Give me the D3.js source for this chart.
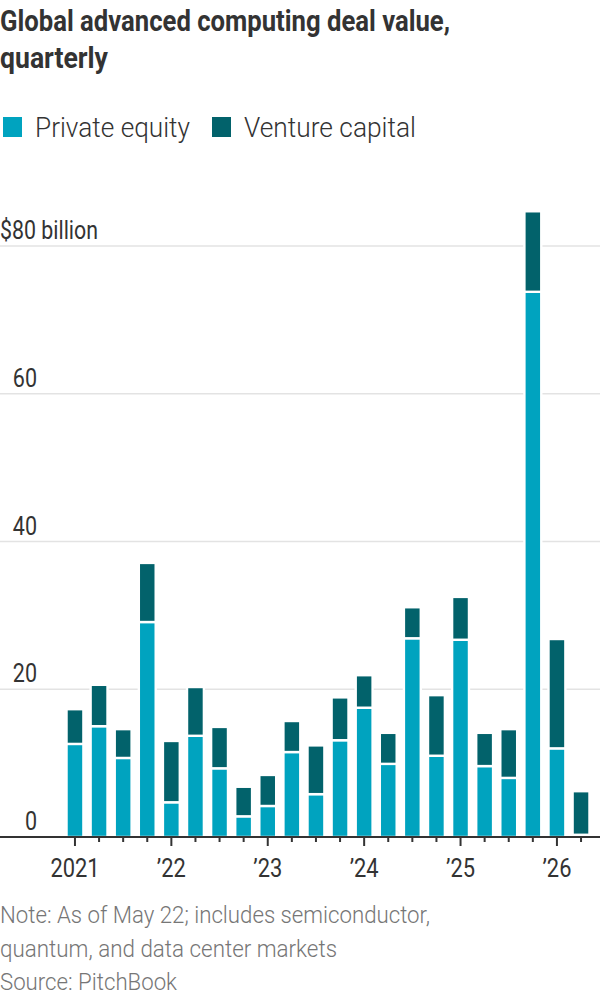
<!DOCTYPE html>
<html>
<head>
<meta charset="utf-8">
<script src="https://cdn.jsdelivr.net/npm/d3@7"></script>
<style>
  body { margin: 0; background: #fff; }
  svg { display: block; }
  text { font-family: Roboto, "Noto Sans", sans-serif; }
</style>
</head>
<body>
<svg id="chart"></svg>
<script>
// quarterly deal value, $ billion
const quarters = [
  "2021 Q1", "2021 Q2", "2021 Q3", "2021 Q4",
  "2022 Q1", "2022 Q2", "2022 Q3", "2022 Q4",
  "2023 Q1", "2023 Q2", "2023 Q3", "2023 Q4",
  "2024 Q1", "2024 Q2", "2024 Q3", "2024 Q4",
  "2025 Q1", "2025 Q2", "2025 Q3", "2025 Q4",
  "2026 Q1", "2026 Q2"
]
const privateEquity = [12.6, 15.0, 10.7, 29.1, 4.7, 13.7, 9.3, 2.8, 4.2, 11.5, 5.8, 13.1, 17.5, 9.9, 26.9, 11.0, 26.7, 9.6, 8.0, 73.8, 12.0, 0.3]
const ventureCapital = [4.7, 5.6, 3.9, 8.0, 8.3, 6.6, 5.6, 4.0, 4.2, 4.2, 6.6, 5.8, 4.4, 4.2, 4.2, 8.2, 5.8, 4.5, 6.6, 10.9, 14.8, 5.9]
const yTicks = [0, 20, 40, 60, 80]
const yearLabels = { "2021 Q1": "2021", "2022 Q1": "\u201922", "2023 Q1": "\u201923", "2024 Q1": "\u201924", "2025 Q1": "\u201925", "2026 Q1": "\u201926" }
const seriesNames = ["Private equity", "Venture capital"]
const colors = ["#00a3bf", "#02626b"]

const width = 600, height = 1000
const svg = d3.select("#chart").attr("width", width).attr("height", height)

// the reference font is narrower than anything installed, so squeeze glyphs
const squeeze = (sel, k) => sel.each(function () {
  const w = this.getComputedTextLength()
  d3.select(this).attr("textLength", w * k).attr("lengthAdjust", "spacingAndGlyphs")
})
const fitTo = (sel, target) => sel.attr("textLength", target).attr("lengthAdjust", "spacingAndGlyphs")

// title
fitTo(svg.append("text").attr("x", 0).attr("y", 31)
  .attr("font-size", 29).attr("font-weight", "bold").attr("fill", "#333")
  .text("Global advanced computing deal value,"), 450)
fitTo(svg.append("text").attr("x", 0).attr("y", 68)
  .attr("font-size", 29).attr("font-weight", "bold").attr("fill", "#333")
  .text("quarterly"), 108)

// legend
const legendX = [3, 212]
const legendW = [155, 172]
seriesNames.forEach((name, i) => {
  svg.append("rect").attr("x", legendX[i]).attr("y", 117).attr("width", 19).attr("height", 20).attr("fill", colors[i])
  fitTo(svg.append("text").attr("x", legendX[i] + 32).attr("y", 137)
    .attr("font-size", 27).attr("font-weight", 300).attr("fill", "#333").text(name), legendW[i])
})

const x = d3.scaleBand().domain(quarters).range([59.3, 596.7]).padding(0.3)
const y = d3.scaleLinear().domain([0, 80]).range([837, 246])

// gridlines + y labels
const grid = svg.append("g")
grid.selectAll("line").data(yTicks.filter(d => d > 0)).join("line")
  .attr("x1", 0).attr("x2", width)
  .attr("y1", d => y(d)).attr("y2", d => y(d))
  .attr("stroke", "#e3e3e3").attr("stroke-width", 1.3)
squeeze(grid.selectAll("text").data(yTicks.filter(d => d < 80)).join("text")
  .attr("x", 37).attr("y", d => y(d) - 7)
  .attr("text-anchor", "end").attr("font-size", 25).attr("fill", "#333")
  .text(d => d), 0.86)
fitTo(svg.append("text").attr("x", 0).attr("y", y(80) - 7)
  .attr("font-size", 25).attr("fill", "#333").text("$80 billion"), 98)

// stacked bars
const rows = quarters.map((q, i) => ({ q, pe: privateEquity[i], vc: ventureCapital[i] }))
const stacked = d3.stack().keys(["pe", "vc"])(rows)

svg.append("g").selectAll("g").data(stacked).join("g")
  .attr("fill", (d, i) => colors[i])
  .selectAll("rect").data(d => d).join("rect")
  .attr("x", d => x(d.data.q))
  .attr("width", x.bandwidth())
  .attr("y", d => y(d[1]))
  .attr("height", d => y(d[0]) - y(d[1]))
  .attr("stroke", "#fff").attr("stroke-width", 2.4)

// x axis
const xAxisGroup = svg.append("g").attr("transform", `translate(0,${y(0)})`)
  .call(d3.axisBottom(x).tickSizeOuter(0).tickSize(5).tickFormat(d => yearLabels[d] || ""))
xAxisGroup.select(".domain").remove()
xAxisGroup.selectAll(".tick line")
  .attr("stroke", "#333").attr("stroke-width", 2)
  .attr("y2", d => yearLabels[d] ? 9 : 5)
squeeze(xAxisGroup.selectAll(".tick text")
  .attr("y", 40).attr("dy", 0)
  .attr("font-family", null)
  .attr("font-size", 25).attr("fill", "#333"), 0.875)
svg.append("line").attr("x1", 0).attr("x2", width)
  .attr("y1", y(0)).attr("y2", y(0))
  .attr("stroke", "#333").attr("stroke-width", 2)

// notes
const notes = ["Note: As of May 22; includes semiconductor,", "quantum, and data center markets", "Source: PitchBook"]
const noteW = [430, 337, 177]
svg.selectAll(".note").data(notes).join("text").attr("class", "note")
  .attr("x", 0).attr("y", (d, i) => 923.3 + i * 33.4)
  .attr("font-size", 23.5).attr("font-weight", 300).attr("fill", "#767676")
  .attr("textLength", (d, i) => noteW[i]).attr("lengthAdjust", "spacingAndGlyphs")
  .text(d => d)
</script>
</body>
</html>
